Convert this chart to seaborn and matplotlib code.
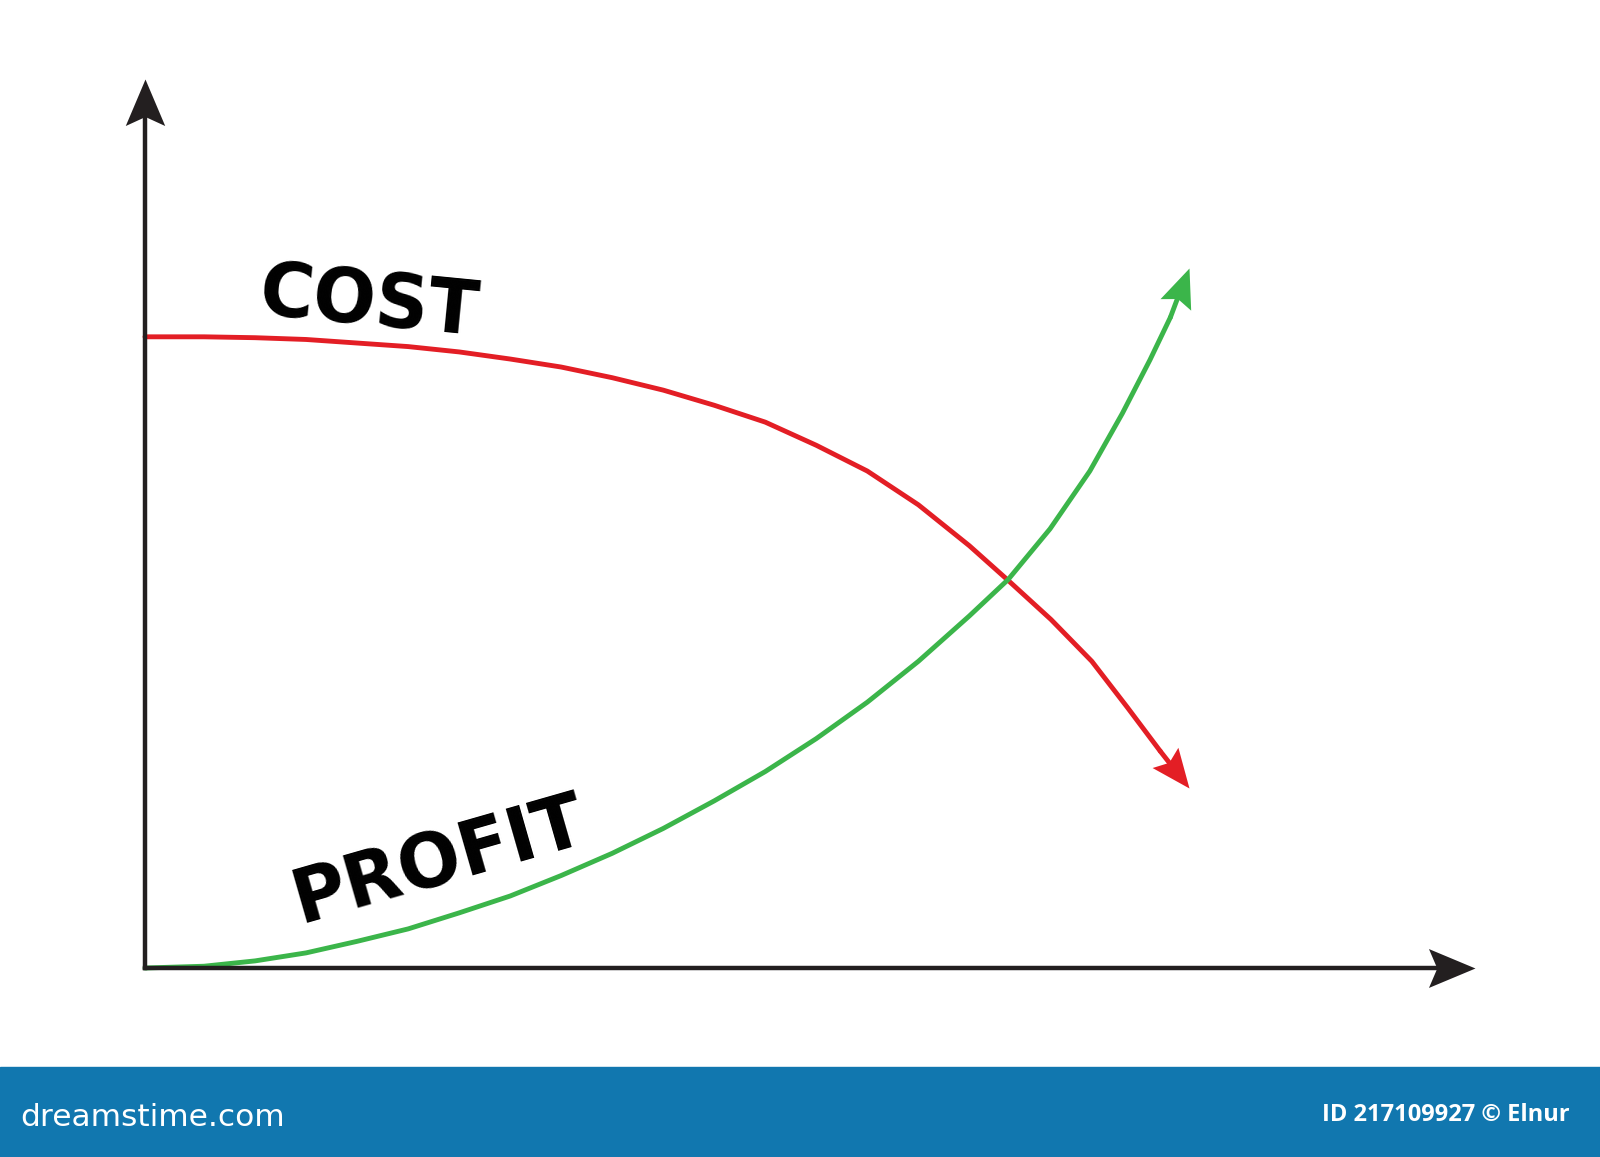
import math
import matplotlib
matplotlib.use("Agg")
import matplotlib.pyplot as plt
import pandas as pd
import seaborn as sns
from matplotlib.patches import Rectangle
from matplotlib.path import Path
from matplotlib.markers import MarkerStyle
from matplotlib.transforms import Affine2D

# ---- data (arbitrary units) ----
cost_x = [0.0, 0.444, 0.828, 1.211, 1.595, 1.979, 2.362, 2.746, 3.129, 3.513, 3.897, 4.280,
          4.664, 5.047, 5.431, 5.815, 6.198, 6.490, 6.812, 7.119, 7.387, 7.633, 7.848]
cost_y = [7.10, 7.10, 7.09, 7.07, 7.03, 6.99, 6.93, 6.85, 6.76, 6.64, 6.50, 6.33,
          6.14, 5.88, 5.59, 5.21, 4.75, 4.36, 3.92, 3.45, 2.93, 2.44, 2.03]
profit_x = [0.0, 0.444, 0.828, 1.211, 1.595, 1.979, 2.362, 2.746, 3.129, 3.513, 3.897, 4.280,
            4.664, 5.047, 5.431, 5.815, 6.198, 6.490, 6.805, 7.104, 7.349, 7.556, 7.710, 7.848]
profit_y = [0.0, 0.02, 0.08, 0.17, 0.30, 0.44, 0.62, 0.81, 1.04, 1.29, 1.57, 1.88,
            2.21, 2.58, 2.99, 3.45, 3.96, 4.37, 4.94, 5.59, 6.24, 6.84, 7.32, 7.87]
series_names = ["COST", "PROFIT"]
axis_max = [10.0, 10.0]
banner_left = "dreamstime.com"
banner_right = "ID 217109927 \u00a9 Elnur"

RED = "#E31E25"
GREEN = "#3BB54A"
AXIS = "#231F20"
BLUE = "#1177AF"

sns.set_theme(style="white")
plt.rcParams["font.family"] = ["DejaVu Sans"]

# curves are drawn up to their second-to-last point; the last segment ends in an arrowhead
df = pd.concat([
    pd.DataFrame({"x": cost_x[:-1], "y": cost_y[:-1], "series": series_names[0]}),
    pd.DataFrame({"x": profit_x[:-1], "y": profit_y[:-1], "series": series_names[1]}),
], ignore_index=True)

fig = plt.figure(figsize=(16, 11.57), dpi=100)
ax = fig.add_axes([145 / 1600, (1157 - 968) / 1157, 1330 / 1600, (968 - 79) / 1157])
ax.set_xlim(0, axis_max[0])
ax.set_ylim(0, axis_max[1])
ax.set_axis_off()

CURVE_LW = 3.5
sns.lineplot(data=df, x="x", y="y", hue="series", palette={series_names[0]: RED, series_names[1]: GREEN},
             linewidth=CURVE_LW, sort=False, legend=False, ax=ax)
for ln in ax.lines:
    ln.set_clip_on(False)
    ln.set_solid_capstyle("round")
    ln.set_solid_joinstyle("round")


def head_marker(L, W, notch, angle):
    verts = [(0, 0), (-L, W), (-L + notch, 0), (-L, -W), (0, 0)]
    codes = [Path.MOVETO, Path.LINETO, Path.LINETO, Path.LINETO, Path.CLOSEPOLY]
    return MarkerStyle(Path(verts, codes), transform=Affine2D().rotate_deg(angle))


def arrow_end(x0, y0, x1, y1, color, lw, L, W, notch, capstyle):
    # shaft up to the back notch of the head
    ax.annotate("", xy=(x1, y1), xytext=(x0, y0), annotation_clip=False,
                arrowprops=dict(arrowstyle="-", lw=lw, color=color, shrinkA=0,
                                shrinkB=L - notch - 1, capstyle=capstyle))
    p0 = ax.transData.transform((x0, y0))
    p1 = ax.transData.transform((x1, y1))
    ang = math.degrees(math.atan2(p1[1] - p0[1], p1[0] - p0[0]))
    ax.plot([x1], [y1], linestyle="none", marker=head_marker(L, W, notch, ang),
            markersize=2 * L, color=color, markeredgewidth=0, clip_on=False, zorder=5)


# axes with arrowheads
arrow_end(0, 0, 0, axis_max[1], AXIS, 3.2, 33.5, 14.2, 6.5, "projecting")
arrow_end(0, 0, axis_max[0], 0, AXIS, 3.2, 33.5, 14.0, 6.0, "projecting")

# curve arrowheads
arrow_end(cost_x[-2], cost_y[-2], cost_x[-1], cost_y[-1], RED, CURVE_LW, 28, 11.8, 4.5, "round")
arrow_end(profit_x[-2], profit_y[-2], profit_x[-1], profit_y[-1], GREEN, CURVE_LW, 28, 11.8, 4.5, "round")

# labels
ax.text(1.68, 7.47, series_names[0], fontsize=53, fontweight="bold", color="black",
        rotation=-5.6, rotation_mode="anchor", ha="center", va="center")
ax.text(2.21, 1.19, series_names[1], fontsize=53, fontweight="bold", color="black",
        rotation=16, rotation_mode="anchor", ha="center", va="center")

# banner
fig.add_artist(Rectangle((0, 0), 1, 90 / 1157, transform=fig.transFigure, color=BLUE, zorder=0))
fig.text(20 / 1600, (1157 - 1118) / 1157, banner_left, color="white", fontsize=22.5,
         ha="left", va="center")
fig.text(1570 / 1600, (1157 - 1115) / 1157, banner_right, color="white", fontsize=17,
         fontweight="bold", family=["Open Sans", "DejaVu Sans"], ha="right", va="center")

fig.savefig("out.png", dpi=100, facecolor="white")
